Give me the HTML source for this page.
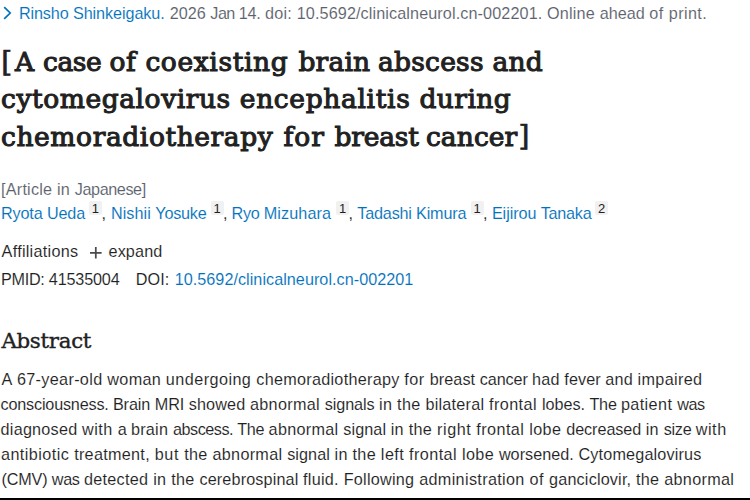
<!DOCTYPE html>
<html lang="en">
<head>
<meta charset="utf-8">
<title>[A case of coexisting brain abscess and cytomegalovirus encephalitis during chemoradiotherapy for breast cancer] - PubMed</title>
<style>
html,body{margin:0;padding:0;background:#fff;}
body{width:750px;height:500px;overflow:hidden;position:relative;font-family:"Liberation Sans",sans-serif;font-size:16px;color:#212121;}
a{text-decoration:none;}
.t{position:absolute;white-space:pre;line-height:40px;height:40px;}
sup.b{position:absolute;top:201px;width:13px;height:13px;padding-top:1px;line-height:13px;font-size:13px;text-align:center;background:#f1f1f1;border-radius:2px;color:#212121;}
.bar{position:absolute;left:0;top:498px;width:750px;height:2px;background:#000;}
svg{position:absolute;overflow:visible;}
.c0{font-family:"Liberation Sans", sans-serif;font-size:16.2px;color:#0071bc;-webkit-text-stroke:0.1px #fff;}
.c1{font-family:"Liberation Sans", sans-serif;font-size:16.2px;color:#5b616b;-webkit-text-stroke:0.1px #fff;}
.c2{font-family:"DejaVu Serif", "Liberation Serif", serif;font-size:28px;color:#212121;-webkit-text-stroke:0.7px #212121;}
.c3{font-family:"DejaVu Serif", "Liberation Serif", serif;font-size:26.5px;color:#212121;-webkit-text-stroke:1.05px #212121;}
.c4{font-family:"Liberation Sans", sans-serif;font-size:16.2px;color:#212121;-webkit-text-stroke:0.1px #fff;}
.c5{font-family:"DejaVu Serif", "Liberation Serif", serif;font-size:21.3px;color:#212121;-webkit-text-stroke:0.4px #212121;}
</style>
</head>
<body>
<svg width="9" height="14" viewBox="0 0 9 14" style="left:3px;top:5.7px"><path d="M1.2 1.1 L7.2 7 L1.2 12.9" fill="none" stroke="#0071bc" stroke-width="1.7"/></svg>
<svg width="11.6" height="11.6" viewBox="0 0 12 12" style="left:90.4px;top:246.7px"><path d="M6 0V12M0 6H12" fill="none" stroke="#4a4a4a" stroke-width="1.8"/></svg>
<a class="t c0" href="#" style="left:19.00px;top:-7px;letter-spacing:-0.140px">Rinsho </a>
<a class="t c0" href="#" style="left:72.91px;top:-7px;letter-spacing:-0.076px">Shinkeigaku.</a>
<span class="t c1" style="left:169.80px;top:-7px;letter-spacing:0.006px">2026 </span>
<span class="t c1" style="left:210.35px;top:-7px;letter-spacing:-0.552px">Jan </span>
<span class="t c1" style="left:238.75px;top:-7px;letter-spacing:-0.210px">14. </span>
<span class="t c1" style="left:264.93px;top:-7px;letter-spacing:0.241px">doi: </span>
<span class="t c1" style="left:296.74px;top:-7px;letter-spacing:0.107px">10.5692/clinicalneurol.cn-002201. </span>
<span class="t c1" style="left:546.97px;top:-7px;letter-spacing:0.208px">Online </span>
<span class="t c1" style="left:599.72px;top:-7px;letter-spacing:-0.005px">ahead </span>
<span class="t c1" style="left:649.21px;top:-7px;letter-spacing:0.523px">of </span>
<span class="t c1" style="left:668.78px;top:-7px;letter-spacing:0.387px">print.</span>
<span class="t c2" style="left:1.20px;top:42px;letter-spacing:0.000px">[</span>
<span class="t c3" style="left:15.00px;top:42px;letter-spacing:1.219px">A </span>
<span class="t c3" style="left:43.00px;top:42px;letter-spacing:-0.392px">case </span>
<span class="t c3" style="left:109.40px;top:42px;letter-spacing:0.604px">of </span>
<span class="t c3" style="left:145.40px;top:42px;letter-spacing:0.629px">coexisting </span>
<span class="t c3" style="left:298.40px;top:42px;letter-spacing:0.199px">brain </span>
<span class="t c3" style="left:378.00px;top:42px;letter-spacing:0.240px">abscess and</span>
<span class="t c3" style="left:1.00px;top:79px;letter-spacing:0.573px">cytomegalovirus </span>
<span class="t c3" style="left:239.80px;top:79px;letter-spacing:0.654px">encephalitis </span>
<span class="t c3" style="left:419.50px;top:79px;letter-spacing:0.400px">during</span>
<span class="t c3" style="left:1.00px;top:117px;letter-spacing:0.591px">chemoradiotherapy </span>
<span class="t c3" style="left:283.40px;top:117px;letter-spacing:1.085px">for </span>
<span class="t c3" style="left:334.60px;top:117px;letter-spacing:-0.214px">breast </span>
<span class="t c3" style="left:425.90px;top:117px;letter-spacing:0.100px">cancer</span>
<span class="t c2" style="left:518.50px;top:116px;letter-spacing:0.000px">]</span>
<span class="t c1" style="left:1.10px;top:169px;letter-spacing:0.205px">[Article </span>
<span class="t c1" style="left:56.93px;top:169px;letter-spacing:0.242px">in </span>
<span class="t c1" style="left:74.76px;top:169px;letter-spacing:-0.407px">Japanese]</span>
<a class="t c0" href="#" style="left:1.00px;top:193px;letter-spacing:-0.142px">Ryota </a>
<a class="t c0" href="#" style="left:46.94px;top:193px;letter-spacing:-0.161px">Ueda</a>
<a class="t c0" href="#" style="left:110.90px;top:193px;letter-spacing:0.057px">Nishii </a>
<a class="t c0" href="#" style="left:155.37px;top:193px;letter-spacing:-0.229px">Yosuke</a>
<a class="t c0" href="#" style="left:231.60px;top:193px;letter-spacing:-0.314px">Ryo </a>
<a class="t c0" href="#" style="left:263.64px;top:193px;letter-spacing:0.120px">Mizuhara</a>
<a class="t c0" href="#" style="left:357.30px;top:193px;letter-spacing:-0.187px">Tadashi </a>
<a class="t c0" href="#" style="left:416.10px;top:193px;letter-spacing:-0.183px">Kimura</a>
<a class="t c0" href="#" style="left:491.90px;top:193px;letter-spacing:-0.076px">Eijirou </a>
<a class="t c0" href="#" style="left:540.78px;top:193px;letter-spacing:-0.263px">Tanaka</a>
<span class="t c4" style="left:101.40px;top:193px;letter-spacing:0.600px">,</span>
<span class="t c4" style="left:223.10px;top:193px;letter-spacing:0.600px">,</span>
<span class="t c4" style="left:348.60px;top:193px;letter-spacing:0.600px">,</span>
<span class="t c4" style="left:483.10px;top:193px;letter-spacing:0.600px">,</span>
<span class="t c4" style="left:1.60px;top:231px;letter-spacing:0.267px">Affiliations</span>
<span class="t c4" style="left:108.50px;top:231px;letter-spacing:0.133px">expand</span>
<span class="t c4" style="left:1.00px;top:259px;letter-spacing:-0.275px">PMID: </span>
<span class="t c4" style="left:48.82px;top:259px;letter-spacing:-0.165px">41535004</span>
<span class="t c4" style="left:135.80px;top:259px;letter-spacing:0.050px">DOI:</span>
<a class="t c0" href="#" style="left:174.70px;top:259px;letter-spacing:0.034px">10.5692/clinicalneurol.cn-002201</a>
<span class="t c5" style="left:1.40px;top:321px;letter-spacing:-0.271px">Abstract</span>
<span class="t c4" style="left:1.60px;top:359px;letter-spacing:0.453px">A </span>
<span class="t c4" style="left:16.91px;top:359px;letter-spacing:0.336px">67-year-old </span>
<span class="t c4" style="left:107.33px;top:359px;letter-spacing:0.307px">woman </span>
<span class="t c4" style="left:165.86px;top:359px;letter-spacing:0.445px">undergoing </span>
<span class="t c4" style="left:256.27px;top:359px;letter-spacing:0.279px">chemoradiotherapy </span>
<span class="t c4" style="left:404.36px;top:359px;letter-spacing:0.486px">for </span>
<span class="t c4" style="left:429.70px;top:359px;letter-spacing:0.082px">breast </span>
<span class="t c4" style="left:479.78px;top:359px;letter-spacing:-0.109px">cancer </span>
<span class="t c4" style="left:532.11px;top:359px;letter-spacing:0.176px">had </span>
<span class="t c4" style="left:564.32px;top:359px;letter-spacing:0.083px">fever </span>
<span class="t c4" style="left:605.32px;top:359px;letter-spacing:0.176px">and </span>
<span class="t c4" style="left:637.54px;top:359px;letter-spacing:0.358px">impaired</span>
<span class="t c4" style="left:0.60px;top:384px;letter-spacing:-0.191px">consciousness. </span>
<span class="t c4" style="left:112.91px;top:384px;letter-spacing:-0.080px">Brain </span>
<span class="t c4" style="left:154.73px;top:384px;letter-spacing:-0.057px">MRI </span>
<span class="t c4" style="left:188.67px;top:384px;letter-spacing:0.151px">showed </span>
<span class="t c4" style="left:250.03px;top:384px;letter-spacing:0.292px">abnormal </span>
<span class="t c4" style="left:324.64px;top:384px;letter-spacing:-0.056px">signals </span>
<span class="t c4" style="left:379.09px;top:384px;letter-spacing:0.292px">in </span>
<span class="t c4" style="left:397.07px;top:384px;letter-spacing:0.329px">the </span>
<span class="t c4" style="left:425.40px;top:384px;letter-spacing:0.242px">bilateral </span>
<span class="t c4" style="left:489.01px;top:384px;letter-spacing:0.425px">frontal </span>
<span class="t c4" style="left:541.91px;top:384px;letter-spacing:-0.018px">lobes. </span>
<span class="t c4" style="left:589.49px;top:384px;letter-spacing:-0.250px">The </span>
<span class="t c4" style="left:620.90px;top:384px;letter-spacing:0.399px">patient </span>
<span class="t c4" style="left:677.20px;top:384px;letter-spacing:-0.400px">was</span>
<span class="t c4" style="left:0.60px;top:409px;letter-spacing:0.229px">diagnosed </span>
<span class="t c4" style="left:82.10px;top:409px;letter-spacing:0.485px">with </span>
<span class="t c4" style="left:117.83px;top:409px;letter-spacing:-0.228px">a </span>
<span class="t c4" style="left:130.89px;top:409px;letter-spacing:0.267px">brain </span>
<span class="t c4" style="left:172.99px;top:409px;letter-spacing:-0.470px">abscess. </span>
<span class="t c4" style="left:237.15px;top:409px;letter-spacing:-0.242px">The </span>
<span class="t c4" style="left:268.58px;top:409px;letter-spacing:0.300px">abnormal </span>
<span class="t c4" style="left:343.27px;top:409px;letter-spacing:0.089px">signal </span>
<span class="t c4" style="left:390.69px;top:409px;letter-spacing:0.298px">in </span>
<span class="t c4" style="left:408.70px;top:409px;letter-spacing:0.336px">the </span>
<span class="t c4" style="left:437.05px;top:409px;letter-spacing:0.546px">right </span>
<span class="t c4" style="left:476.33px;top:409px;letter-spacing:0.431px">frontal </span>
<span class="t c4" style="left:529.28px;top:409px;letter-spacing:0.364px">lobe </span>
<span class="t c4" style="left:566.21px;top:409px;letter-spacing:-0.063px">decreased </span>
<span class="t c4" style="left:645.67px;top:409px;letter-spacing:0.298px">in </span>
<span class="t c4" style="left:663.67px;top:409px;letter-spacing:-0.264px">size </span>
<span class="t c4" style="left:695.64px;top:409px;letter-spacing:0.589px">with</span>
<span class="t c4" style="left:1.00px;top:434px;letter-spacing:0.432px">antibiotic </span>
<span class="t c4" style="left:74.14px;top:434px;letter-spacing:0.292px">treatment, </span>
<span class="t c4" style="left:154.73px;top:434px;letter-spacing:0.600px">but </span>
<span class="t c4" style="left:184.15px;top:434px;letter-spacing:0.331px">the </span>
<span class="t c4" style="left:212.49px;top:434px;letter-spacing:0.295px">abnormal </span>
<span class="t c4" style="left:287.13px;top:434px;letter-spacing:0.085px">signal </span>
<span class="t c4" style="left:334.52px;top:434px;letter-spacing:0.294px">in </span>
<span class="t c4" style="left:352.51px;top:434px;letter-spacing:0.331px">the </span>
<span class="t c4" style="left:380.86px;top:434px;letter-spacing:0.423px">left </span>
<span class="t c4" style="left:409.07px;top:434px;letter-spacing:0.427px">frontal </span>
<span class="t c4" style="left:461.98px;top:434px;letter-spacing:0.359px">lobe </span>
<span class="t c4" style="left:498.89px;top:434px;letter-spacing:0.033px">worsened. </span>
<span class="t c4" style="left:578.41px;top:434px;letter-spacing:0.173px">Cytomegalovirus</span>
<span class="t c4" style="left:1.50px;top:459px;letter-spacing:-0.166px">(CMV) </span>
<span class="t c4" style="left:51.76px;top:459px;letter-spacing:-0.290px">was </span>
<span class="t c4" style="left:83.89px;top:459px;letter-spacing:0.298px">detected </span>
<span class="t c4" style="left:153.18px;top:459px;letter-spacing:0.287px">in </span>
<span class="t c4" style="left:171.16px;top:459px;letter-spacing:0.323px">the </span>
<span class="t c4" style="left:199.46px;top:459px;letter-spacing:0.136px">cerebrospinal </span>
<span class="t c4" style="left:303.06px;top:459px;letter-spacing:0.274px">fluid. </span>
<span class="t c4" style="left:343.67px;top:459px;letter-spacing:0.261px">Following </span>
<span class="t c4" style="left:419.18px;top:459px;letter-spacing:0.339px">administration </span>
<span class="t c4" style="left:529.54px;top:459px;letter-spacing:0.511px">of </span>
<span class="t c4" style="left:549.08px;top:459px;letter-spacing:0.173px">ganciclovir, </span>
<span class="t c4" style="left:635.90px;top:459px;letter-spacing:0.323px">the </span>
<span class="t c4" style="left:664.21px;top:459px;letter-spacing:0.311px">abnormal</span>
<sup class="b" style="left:88.8px">1</sup>
<sup class="b" style="left:210.5px">1</sup>
<sup class="b" style="left:336.0px">1</sup>
<sup class="b" style="left:470.5px">1</sup>
<sup class="b" style="left:595.2px">2</sup>
<div class="bar"></div>
</body>
</html>
